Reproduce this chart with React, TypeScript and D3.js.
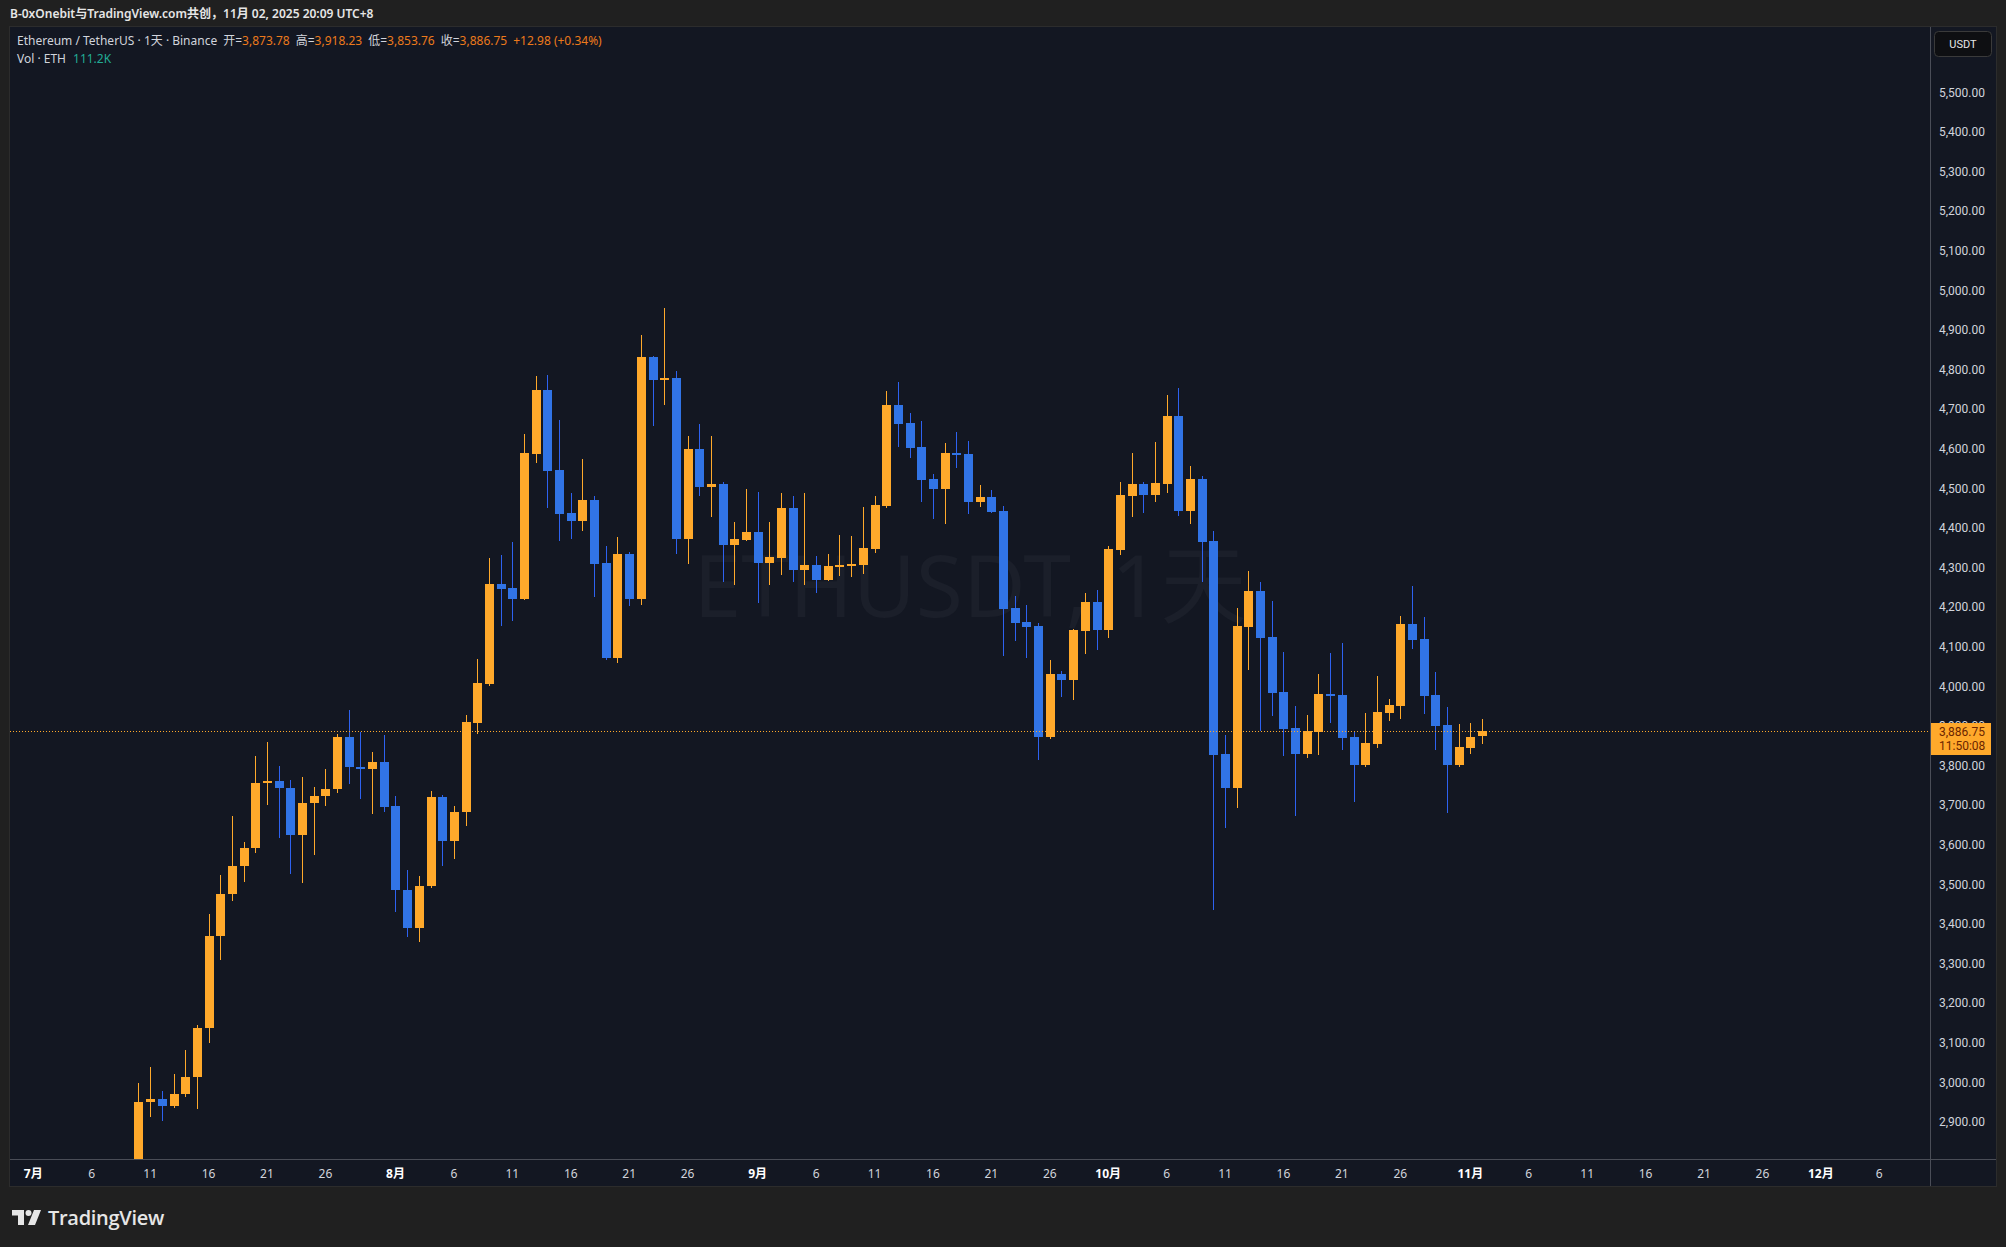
import React from 'react';
import * as d3 from 'd3';

// ---- data (ETHUSDT daily) ----
const startDate = '2025-07-10';
const endDateExclusive = '2025-11-03';

const opens = [
  2771, 2951, 2958, 2941, 2971, 3014, 3137, 3370, 3476, 3547, 3592, 3756, 3761, 3744, 3625, 3706, 3723, 3741, 3872, 3797, 3792, 3809,
  3697, 3487, 3390, 3495, 3721, 3610, 3682, 3909, 4007, 4259, 4248, 4221, 4588, 4749, 4546, 4438, 4418, 4471, 4312, 4072, 4335, 4221, 4832, 4776, 4779, 4372, 4600, 4504, 4511, 4357, 4370,
  4390, 4312, 4324, 4451, 4294, 4307, 4269, 4304, 4305, 4307, 4347, 4456, 4711, 4665, 4605, 4524, 4499, 4590, 4587, 4466, 4478, 4443, 4198, 4163, 4153, 3872, 4031, 4016, 4140, 4213,
  4143, 4345, 4481, 4511, 4484, 4511, 4683, 4444, 4524, 4367, 3829, 3744, 4150, 4241, 4125, 3986, 3895, 3829, 3885, 3981, 3978, 3872, 3802, 3855, 3933, 3951, 4158, 4120, 3978, 3903, 3802,
  3845, 3873.78,
];
const highs = [
  2999, 3039, 2979, 3021, 3082, 3145, 3425, 3524, 3673, 3607, 3824, 3860, 3799, 3764, 3771, 3746, 3792, 3880, 3941, 3885, 3835, 3878,
  3723, 3537, 3521, 3736, 3725, 3698, 3928, 4069, 4324, 4332, 4365, 4638, 4784, 4787, 4673, 4489, 4574, 4481, 4355, 4377, 4340, 4888, 4835, 4956, 4797, 4633, 4663, 4633, 4516, 4415, 4499,
  4491, 4415, 4489, 4481, 4489, 4329, 4335, 4382, 4380, 4453, 4481, 4746, 4769, 4691, 4670, 4537, 4615, 4643, 4620, 4509, 4496, 4456, 4228, 4206, 4160, 4067, 4039, 4145, 4236, 4244,
  4355, 4516, 4590, 4516, 4617, 4736, 4754, 4557, 4531, 4393, 3877, 4198, 4292, 4264, 4216, 4087, 3951, 3928, 4031, 4085, 4110, 3888, 3933, 4026, 3968, 4178, 4254, 4175, 4037, 3948, 3905,
  3908, 3918.23,
];
const lows = [
  2748, 2914, 2904, 2936, 2963, 2933, 3100, 3309, 3458, 3506, 3580, 3701, 3617, 3527, 3504, 3575, 3698, 3731, 3754, 3716, 3678, 3683,
  3431, 3367, 3355, 3491, 3547, 3564, 3648, 3880, 4000, 4153, 4165, 4218, 4564, 4451, 4367, 4372, 4393, 4226, 4067, 4059, 4203, 4206, 4658, 4711, 4335, 4309, 4481, 4428, 4264, 4256, 4368,
  4211, 4256, 4282, 4264, 4256, 4236, 4267, 4279, 4276, 4284, 4337, 4451, 4605, 4577, 4466, 4423, 4410, 4552, 4436, 4453, 4438, 4077, 4115, 4072, 3814, 3867, 3973, 3966, 4082, 4092,
  4122, 4332, 4428, 4438, 4466, 4489, 4430, 4411, 4265, 3436, 3643, 3694, 4042, 3888, 3925, 3824, 3673, 3819, 3827, 3908, 3840, 3708, 3797, 3845, 3913, 3918, 4095, 3930, 3840, 3680, 3797,
  3829, 3853.76,
];
const closes = [
  2951, 2958, 2941, 2971, 3014, 3137, 3370, 3476, 3547, 3592, 3756, 3761, 3744, 3625, 3706, 3723, 3741, 3872, 3797, 3792, 3809, 3696,
  3486, 3390, 3495, 3721, 3610, 3682, 3910, 4009, 4259, 4246, 4221, 4590, 4749, 4544, 4436, 4418, 4471, 4309, 4072, 4335, 4221, 4832, 4774, 4779, 4372, 4600, 4504, 4511, 4357, 4372, 4390,
  4312, 4327, 4451, 4294, 4307, 4269, 4304, 4307, 4309, 4350, 4458, 4711, 4663, 4602, 4521, 4499, 4590, 4585, 4466, 4478, 4441, 4196, 4160, 4150, 3872, 4031, 4016, 4143, 4213, 4143,
  4347, 4484, 4511, 4484, 4514, 4683, 4444, 4524, 4366, 3828, 3744, 4153, 4241, 4122, 3983, 3893, 3829, 3888, 3981, 3976, 3870, 3802, 3857, 3936, 3953, 4158, 4117, 3976, 3900, 3802, 3847,
  3872, 3886.75,
];

const priceTicks = [5500, 5400, 5300, 5200, 5100, 5000, 4900, 4800, 4700, 4600, 4500, 4400, 4300, 4200, 4100, 4000, 3900, 3800, 3700, 3600, 3500, 3400, 3300, 3200, 3100, 3000, 2900];

const timeTickDates = [
  '2025-07-01', '2025-07-06', '2025-07-11', '2025-07-16', '2025-07-21', '2025-07-26',
  '2025-08-01', '2025-08-06', '2025-08-11', '2025-08-16', '2025-08-21', '2025-08-26',
  '2025-09-01', '2025-09-06', '2025-09-11', '2025-09-16', '2025-09-21', '2025-09-26',
  '2025-10-01', '2025-10-06', '2025-10-11', '2025-10-16', '2025-10-21', '2025-10-26',
  '2025-11-01', '2025-11-06', '2025-11-11', '2025-11-16', '2025-11-21', '2025-11-26',
  '2025-12-01', '2025-12-06',
];
const timeTickLabels = [
  '7月', '6', '11', '16', '21', '26',
  '8月', '6', '11', '16', '21', '26',
  '9月', '6', '11', '16', '21', '26',
  '10月', '6', '11', '16', '21', '26',
  '11月', '6', '11', '16', '21', '26',
  '12月', '6',
];

const lastPrice = 3886.75;
const countdown = '11:50:08';
const titleText = 'B-0xOnebit与TradingView.com共创，11月 02, 2025 20:09 UTC+8';
const watermark = 'ETHUSDT, 1天';

// ---- styles ----
const W = 2006;
const H = 1247;
const PAGE_BG = '#202020';
const PANE_BG = '#131722';
const UP = '#ffa92b';
const DOWN_BODY = '#3174e6';
const DOWN_WICK = '#2e62f0';
const AXIS_TEXT = '#d1d4dc';
const LINE = '#4a4d57';
const FONT = 'Roboto, "Noto Sans", "Noto Sans CJK SC", sans-serif';
const CJK = '"Noto Sans", "Noto Sans CJK SC", sans-serif';

const frame = { x0: 10, y0: 27, x1: 1996, y1: 1186 };
const paneRight = 1930;
const paneBottom = 1159;

const parse = d3.utcParse('%Y-%m-%d');

export default function App() {
  const days = d3.utcDay.range(parse(startDate)!, parse(endDateExclusive)!);
  const x = d3
    .scaleUtc()
    .domain([parse('2025-07-01')!, parse('2025-12-06')!])
    .range([33.3, 1879.3]);
  const y = d3.scaleLinear().domain([2900, 5500]).range([1122.1, 92.5]);
  const fmt = d3.format(',.2f');

  const candles = days.map((d, i) => ({
    d,
    o: opens[i],
    h: highs[i],
    l: lows[i],
    c: closes[i],
  }));

  const bodyW = 9;
  const lastY = Math.round(y(lastPrice)) + 0.5;

  return (
    <svg
      width={W}
      height={H}
      style={{ position: 'absolute', left: 0, top: 0, display: 'block' }}
      xmlns="http://www.w3.org/2000/svg"
    >
      <defs>
        <clipPath id="pane">
          <rect x={frame.x0} y={frame.y0} width={paneRight - frame.x0} height={paneBottom - frame.y0} />
        </clipPath>
      </defs>
      <rect x={0} y={0} width={W} height={H} fill={PAGE_BG} />
      {/* title */}
      <text x={10} y={18} fill="#e6e6e6" fontSize={12} fontWeight={600} fontFamily={CJK}>
        {titleText}
      </text>
      {/* frame */}
      <rect
        x={frame.x0 - 0.5}
        y={frame.y0 - 0.5}
        width={frame.x1 - frame.x0 + 1}
        height={frame.y1 - frame.y0 + 1}
        fill={PANE_BG}
        stroke="#2c2c2c"
      />
      {/* watermark */}
      <text
        x={(frame.x0 + paneRight) / 2}
        y={617}
        textAnchor="middle"
        fontSize={86}
        fill="#1b1f2a"
        fontFamily={CJK}
      >
        {watermark}
      </text>

      {/* candles */}
      <g clipPath="url(#pane)">
        {candles.map((k, i) => {
          const cx = Math.round(x(k.d));
          const up = k.c >= k.o;
          const top = Math.round(y(Math.max(k.o, k.c)));
          const bot = Math.round(y(Math.min(k.o, k.c)));
          const hy = Math.round(y(k.h));
          const ly = Math.round(y(k.l));
          return (
            <g key={i}>
              <rect x={cx} y={hy} width={1} height={Math.max(1, ly - hy)} fill={up ? UP : DOWN_WICK} />
              <rect
                x={cx - 4}
                y={top}
                width={bodyW}
                height={Math.max(2, bot - top)}
                fill={up ? UP : DOWN_BODY}
              />
            </g>
          );
        })}
        {/* last price dotted line */}
        <line
          x1={frame.x0}
          x2={paneRight}
          y1={lastY}
          y2={lastY}
          stroke={UP}
          strokeWidth={1}
          strokeDasharray="1,2"
        />
      </g>

      {/* legend */}
      <g fontFamily={CJK} fontSize={12}>
        <text x={17} y={45} fill={AXIS_TEXT}>
          <tspan>Ethereum / TetherUS · 1天 · Binance</tspan>
          <tspan dx={6}>开=</tspan>
          <tspan fill="#ec7a1c">3,873.78</tspan>
          <tspan dx={6}>高=</tspan>
          <tspan fill="#ec7a1c">3,918.23</tspan>
          <tspan dx={6}>低=</tspan>
          <tspan fill="#ec7a1c">3,853.76</tspan>
          <tspan dx={6}>收=</tspan>
          <tspan fill="#ec7a1c">3,886.75</tspan>
          <tspan dx={6} fill="#ec7a1c">+12.98 (+0.34%)</tspan>
        </text>
        <text x={17} y={63} fill={AXIS_TEXT}>
          <tspan>Vol · ETH</tspan>
          <tspan dx={7} fill="#22ab94">111.2K</tspan>
        </text>
      </g>

      {/* axes lines */}
      <line x1={paneRight + 0.5} x2={paneRight + 0.5} y1={frame.y0} y2={frame.y1} stroke={LINE} />
      <line x1={frame.x0} x2={frame.x1} y1={paneBottom + 0.5} y2={paneBottom + 0.5} stroke={LINE} />

      {/* price axis */}
      <g fontFamily={FONT} fontSize={12} fill={AXIS_TEXT}>
        {priceTicks.map((p) => (
          <text key={p} x={1939} y={y(p)} dominantBaseline="central">
            {fmt(p)}
          </text>
        ))}
      </g>
      {/* USDT box */}
      <rect x={1934.5} y={31.5} width={57} height={25} rx={4} fill="#0e0f12" stroke="#3a3a3a" />
      <text x={1963} y={44} textAnchor="middle" dominantBaseline="central" fontFamily={FONT} fontSize={11} fill="#e6e6e6">
        USDT
      </text>
      {/* last price label */}
      <rect x={paneRight + 1} y={Math.round(y(lastPrice)) - 8} width={60} height={32} fill={UP} />
      <text x={1939} y={y(lastPrice) + 1} dominantBaseline="central" fontFamily={FONT} fontSize={12} fill="#6b2500">
        {fmt(lastPrice)}
      </text>
      <text x={1939} y={y(lastPrice) + 15} dominantBaseline="central" fontFamily={FONT} fontSize={12} fill="#6b2500">
        {countdown}
      </text>

      {/* time axis */}
      <g fontFamily={CJK} fontSize={12}>
        {timeTickDates.map((ds, i) => {
          const lbl = timeTickLabels[i];
          const major = lbl.includes('月');
          return (
            <text
              key={ds}
              x={x(parse(ds)!)}
              y={1173}
              textAnchor="middle"
              dominantBaseline="central"
              fill={major ? '#ffffff' : AXIS_TEXT}
              fontWeight={major ? 700 : 400}
            >
              {lbl}
            </text>
          );
        })}
      </g>

      {/* TradingView logo */}
      <g fill="#e6e6e6">
        <path d="M12,1210 H24 V1225 H18 V1215.5 H12 Z" />
        <circle cx={28.5} cy={1213} r={3} />
        <path d="M34,1210 H41 L35,1225 H28 Z" />
        <text x={48} y={1225} fontFamily={'"Open Sans", Lato, sans-serif'} fontSize={20} fontWeight={600} letterSpacing={-0.3}>
          TradingView
        </text>
      </g>
    </svg>
  );
}
